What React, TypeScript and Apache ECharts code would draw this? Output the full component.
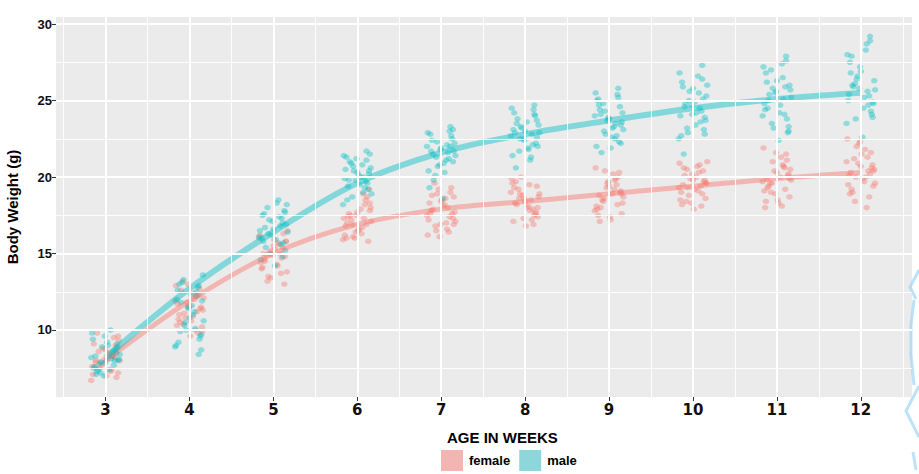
import React, { useEffect, useRef } from "react";
import * as echarts from "echarts";

const WEEKS = [3, 4, 5, 6, 7, 8, 9, 10, 11, 12];
const X_TICKS = [3, 4, 5, 6, 7, 8, 9, 10, 11, 12];
const X_MINOR = [2.5, 3.5, 4.5, 5.5, 6.5, 7.5, 8.5, 9.5, 10.5, 11.5, 12.5];
const Y_TICKS = [10, 15, 20, 25, 30];
const Y_MINOR = [7.5, 12.5, 17.5, 22.5, 27.5];

const FEMALE_Y = [
  [7.9, 8.4, 7.2, 8.8, 9.5, 7.6, 8.1, 6.9, 8.6, 7.4, 9.1, 8.0, 7.7, 8.3, 9.8, 7.0, 8.9, 7.5, 8.2, 6.7, 8.5, 7.8, 9.3, 8.0, 7.3, 8.7, 7.1, 9.0, 7.9, 8.3, 7.6, 9.6, 8.1],
  [11.0, 12.4, 10.2, 11.8, 9.8, 12.9, 10.6, 11.4, 13.2, 10.0, 11.7, 12.1, 10.8, 11.2, 12.6, 9.6, 11.5, 10.4, 12.3, 11.9, 10.9, 13.0, 11.3, 10.5, 12.0, 11.6, 10.3, 12.7, 11.1, 12.2, 10.7, 9.9, 11.5],
  [15.0, 14.2, 15.8, 13.4, 14.7, 16.2, 15.3, 13.0, 14.9, 15.6, 14.0, 16.5, 15.1, 13.7, 14.5, 15.9, 14.8, 13.2, 15.4, 16.0, 14.3, 15.2, 13.8, 14.6, 15.7, 15.5, 14.4, 16.3, 13.5, 15.0, 14.1, 15.8, 14.9],
  [17.0, 16.3, 17.8, 16.0, 18.5, 17.3, 16.6, 15.8, 17.5, 18.9, 16.8, 17.1, 16.1, 18.2, 17.6, 16.5, 19.2, 17.2, 16.9, 15.9, 17.9, 16.4, 18.0, 17.4, 16.7, 17.7, 16.2, 18.7, 16.9, 17.3, 16.0, 18.3, 17.5],
  [17.8, 18.6, 16.9, 19.2, 17.4, 16.2, 18.1, 17.6, 19.6, 16.6, 18.3, 17.1, 18.9, 16.4, 17.9, 18.5, 17.3, 16.8, 19.0, 17.5, 18.2, 16.1, 17.7, 18.8, 17.0, 18.4, 17.2, 19.3, 16.5, 18.0, 17.6, 18.7, 16.9],
  [18.3, 19.5, 17.4, 18.8, 16.9, 19.9, 18.0, 17.7, 19.2, 18.5, 17.1, 18.9, 20.0, 17.9, 18.2, 16.8, 19.4, 18.6, 17.5, 19.0, 18.1, 17.3, 18.7, 19.7, 17.8, 18.4, 19.6, 17.6, 18.9, 17.2, 19.3, 18.0, 18.6],
  [18.8, 20.2, 17.6, 19.3, 18.2, 20.6, 17.2, 19.0, 18.5, 19.8, 17.9, 18.7, 20.4, 19.5, 18.0, 17.4, 19.1, 18.4, 20.0, 17.8, 18.9, 19.6, 18.3, 17.1, 19.2, 19.4, 18.1, 20.3, 18.6, 19.9, 17.5, 18.9, 19.7],
  [19.5, 20.7, 18.6, 19.9, 18.1, 20.9, 19.2, 19.7, 18.4, 20.3, 19.0, 21.0, 18.8, 19.4, 20.1, 17.9, 19.8, 20.5, 18.9, 19.3, 20.0, 18.3, 19.6, 20.6, 19.1, 19.8, 18.5, 20.4, 19.3, 20.8, 18.2, 19.6, 20.2],
  [19.9, 21.3, 18.7, 20.4, 19.2, 21.9, 18.3, 20.1, 19.6, 20.8, 18.0, 19.8, 21.0, 20.6, 19.4, 18.5, 20.2, 19.0, 21.5, 19.7, 20.0, 18.9, 20.5, 19.3, 18.1, 20.3, 19.1, 21.1, 19.6, 20.7, 18.4, 19.9, 21.6],
  [20.3, 21.8, 19.4, 20.9, 18.7, 22.5, 19.9, 20.6, 21.2, 18.0, 20.1, 19.6, 22.0, 20.4, 19.0, 21.5, 20.8, 18.4, 20.2, 21.0, 19.7, 22.2, 20.5, 19.2, 20.0, 20.7, 19.5, 21.6, 20.0, 21.3, 18.9, 20.4, 22.3],
];

const MALE_Y = [
  [8.3, 7.6, 9.0, 8.1, 7.2, 8.7, 9.4, 7.9, 8.5, 7.4, 10.0, 8.2, 7.7, 8.9, 8.0, 7.1, 9.2, 8.4, 7.8, 8.6, 9.6, 7.5, 8.1, 8.8, 7.3, 7.9, 8.6, 9.8, 7.4, 8.3, 9.1, 7.0, 8.0],
  [12.5, 9.2, 11.6, 13.6, 10.3, 8.4, 12.0, 10.8, 9.6, 13.1, 11.2, 8.9, 12.8, 10.0, 11.9, 9.9, 12.3, 10.6, 13.3, 9.4, 11.4, 12.6, 10.1, 8.7, 11.8, 10.5, 12.2, 9.0, 11.0, 13.0, 9.7, 11.5, 12.9],
  [16.8, 17.5, 15.9, 18.2, 16.3, 17.0, 14.6, 16.6, 17.8, 15.4, 18.5, 16.1, 17.3, 15.0, 16.9, 17.6, 14.2, 16.4, 18.0, 15.7, 17.1, 16.0, 17.4, 15.2, 16.7, 17.2, 15.6, 16.5, 18.3, 15.8, 17.7, 16.2, 14.8],
  [20.0, 21.3, 19.5, 20.6, 18.7, 21.7, 19.9, 20.3, 19.2, 21.0, 20.8, 18.2, 19.7, 20.4, 21.5, 19.4, 20.1, 18.9, 20.9, 19.6, 21.2, 20.5, 19.0, 20.2, 19.8, 20.7, 19.3, 21.4, 20.0, 18.5, 20.4, 19.8, 21.1],
  [21.6, 22.8, 20.9, 22.2, 21.3, 23.3, 20.4, 21.9, 22.5, 19.8, 21.1, 22.0, 23.0, 20.7, 21.7, 22.4, 18.6, 21.4, 20.1, 22.7, 21.8, 19.3, 22.1, 21.0, 21.5, 22.3, 21.2, 22.9, 20.3, 21.7, 23.1, 20.8, 22.0],
  [22.8, 24.2, 21.9, 23.4, 22.5, 24.7, 21.4, 23.0, 22.2, 23.8, 21.1, 22.7, 24.4, 23.2, 22.0, 20.6, 23.6, 22.9, 21.7, 24.0, 22.4, 23.1, 21.3, 22.6, 23.5, 23.3, 22.1, 24.5, 21.8, 22.9, 23.7, 22.5, 24.1],
  [23.5, 25.1, 22.6, 24.2, 23.0, 25.8, 22.0, 23.8, 24.6, 21.6, 23.3, 24.0, 25.4, 22.8, 23.6, 24.4, 21.9, 23.1, 24.8, 22.3, 23.9, 25.0, 22.5, 23.4, 24.1, 24.3, 22.7, 25.5, 23.2, 24.7, 22.2, 23.7, 25.2],
  [24.5, 26.2, 23.4, 25.3, 22.9, 27.3, 24.0, 25.8, 23.1, 24.8, 26.6, 22.5, 24.3, 25.6, 23.7, 21.5, 24.9, 26.0, 23.2, 25.1, 24.1, 22.7, 25.5, 23.9, 24.6, 25.0, 23.6, 26.8, 24.2, 25.9, 22.8, 24.7, 26.4],
  [25.1, 26.8, 24.2, 25.7, 23.5, 27.9, 24.8, 26.3, 22.9, 25.4, 27.4, 24.0, 25.9, 23.2, 26.0, 24.5, 22.4, 25.2, 27.0, 23.8, 25.6, 24.4, 26.5, 23.0, 25.0, 25.8, 24.1, 27.2, 24.7, 26.2, 23.3, 25.5, 27.6],
  [25.6, 27.5, 24.5, 26.3, 23.8, 29.2, 25.0, 26.9, 24.1, 25.9, 28.3, 23.5, 25.3, 26.6, 24.8, 27.9, 22.6, 25.7, 26.1, 24.3, 27.2, 25.4, 28.7, 24.9, 26.0, 26.4, 24.7, 28.0, 25.2, 26.8, 23.9, 25.8, 28.9],
];

const FEMALE_JITTER = [-0.12, 0.05, 0.15, -0.03, 0.1, -0.16, 0.02, 0.13, -0.08, 0.07, -0.14, 0.17, -0.05, 0.09, -0.1, 0.01, 0.14, -0.07, 0.11, -0.17, 0.04, -0.02, 0.16, -0.11, 0.06, 0.0, -0.15, 0.12, -0.06, 0.08, -0.13, 0.15, -0.01];
const MALE_JITTER = [0.08, -0.13, 0.03, 0.16, -0.06, 0.11, -0.15, 0.0, 0.13, -0.09, 0.06, -0.17, 0.1, -0.04, 0.15, -0.11, 0.02, 0.17, -0.07, 0.12, -0.01, -0.14, 0.07, 0.14, -0.1, -0.05, 0.09, -0.16, 0.04, -0.12, 0.14, -0.02, 0.11];

const FEMALE_FIT = [8.0, 11.9, 15.0, 16.9, 17.9, 18.4, 18.9, 19.4, 19.9, 20.3];
const MALE_FIT = [8.2, 12.7, 16.4, 19.6, 21.6, 22.8, 23.7, 24.5, 25.1, 25.5];

const FEMALE_COLOR = "#F8766D";
const MALE_COLOR = "#00BFC4";

function buildPoints(ys: number[][], jitter: number[]) {
  const out: number[][] = [];
  WEEKS.forEach((w, i) => {
    ys[i].forEach((y, j) => out.push([w + jitter[j % jitter.length], y]));
  });
  return out;
}

export default function App() {
  const ref = useRef<HTMLDivElement>(null);
  useEffect(() => {
    if (!ref.current) return;
    const chart = echarts.init(ref.current, null, { renderer: "svg" });
    const gridLines: any[] = [];
    X_MINOR.forEach((v) => gridLines.push({ xAxis: v, lineStyle: { color: "#FFFFFF", width: 0.9, type: "solid" } }));
    Y_MINOR.forEach((v) => gridLines.push({ yAxis: v, lineStyle: { color: "#FFFFFF", width: 0.9, type: "solid" } }));
    X_TICKS.forEach((v) => gridLines.push({ xAxis: v, lineStyle: { color: "#FFFFFF", width: 2, type: "solid" } }));
    Y_TICKS.forEach((v) => gridLines.push({ yAxis: v, lineStyle: { color: "#FFFFFF", width: 2, type: "solid" } }));

    const blue = "rgba(160,214,245,0.7)";
    const option: any = {
      animation: false,
      textStyle: { fontFamily: "Liberation Sans, Arial, sans-serif" },
      grid: {
        left: 56,
        top: 17,
        right: 7,
        bottom: 77,
        show: true,
        backgroundColor: "#EBEBEB",
        borderWidth: 0,
        containLabel: false,
        outerBoundsMode: "none",
      },
      xAxis: {
        type: "value",
        min: 2.41,
        max: 12.61,
        axisLine: { show: false },
        splitLine: { show: false },
        axisTick: { show: true, customValues: X_TICKS, length: 4, lineStyle: { color: "#333333", width: 1 } },
        axisLabel: {
          customValues: X_TICKS,
          color: "#111111",
          fontSize: 15,
          fontWeight: "bold",
          fontFamily: "DejaVu Sans, sans-serif",
          margin: 5,
          formatter: (v: number) => (Number.isInteger(v) ? String(v) : ""),
        },
      },
      yAxis: {
        type: "value",
        min: 5.62,
        max: 30.46,
        name: "Body Weight (g)",
        nameLocation: "middle",
        nameGap: 36,
        nameTextStyle: { color: "#000000", fontSize: 15, fontWeight: "bold" },
        axisLine: { show: false },
        splitLine: { show: false },
        axisTick: { show: true, customValues: Y_TICKS, length: 4, lineStyle: { color: "#333333", width: 1 } },
        axisLabel: {
          customValues: Y_TICKS,
          color: "#111111",
          fontSize: 13,
          fontWeight: "bold",
          margin: 4,
          formatter: (v: number) => (Number.isInteger(v) ? String(v) : ""),
        },
      },
      legend: {
        left: 441,
        top: 450,
        padding: 0,
        itemWidth: 22,
        itemHeight: 21,
        itemGap: 9,
        icon: "rect",
        selectedMode: false,
        textStyle: { color: "#000000", fontSize: 13, fontWeight: "bold", padding: [0, 0, 0, 1] },
        data: [
          { name: "female", itemStyle: { color: "#F3B5B1", opacity: 1 } },
          { name: "male", itemStyle: { color: "#8DD6D9", opacity: 1 } },
        ],
      },
      graphic: [
        {
          type: "text",
          left: 447,
          top: 430,
          style: { text: "AGE IN WEEKS", fill: "#000000", font: "bold 15px Liberation Sans, Arial, sans-serif" },
        },
        { type: "polyline", shape: { points: [[919, 270], [910, 287], [916, 299]] }, style: { stroke: blue, lineWidth: 3, fill: "none" } },
        { type: "polyline", shape: { points: [[914, 300], [911, 325], [911, 355], [914, 385]] }, style: { stroke: blue, lineWidth: 3, fill: "none" } },
        { type: "polyline", shape: { points: [[919, 386], [906, 411], [919, 437]] }, style: { stroke: blue, lineWidth: 3, fill: "none" } },
        { type: "polyline", shape: { points: [[913, 452], [916, 470]] }, style: { stroke: blue, lineWidth: 3, fill: "none" } },
      ],
      series: [
        {
          name: "grid",
          type: "scatter",
          data: [],
          z: 1,
          silent: true,
          markLine: {
            silent: true,
            symbol: "none",
            label: { show: false },
            animation: false,
            data: gridLines,
          },
        },
        {
          name: "female",
          type: "scatter",
          z: 3,
          symbol: "circle",
          symbolSize: [6.5, 5.5],
          itemStyle: { color: FEMALE_COLOR, opacity: 0.38 },
          data: buildPoints(FEMALE_Y, FEMALE_JITTER),
        },
        {
          name: "male",
          type: "scatter",
          z: 3,
          symbol: "circle",
          symbolSize: [6.5, 5.5],
          itemStyle: { color: MALE_COLOR, opacity: 0.38 },
          data: buildPoints(MALE_Y, MALE_JITTER),
        },
        {
          name: "female fit",
          type: "line",
          z: 4,
          smooth: 0.35,
          symbol: "none",
          lineStyle: { color: FEMALE_COLOR, width: 5, opacity: 0.45 },
          data: WEEKS.map((w, i) => [w, FEMALE_FIT[i]]),
        },
        {
          name: "male fit",
          type: "line",
          z: 4,
          smooth: 0.35,
          symbol: "none",
          lineStyle: { color: MALE_COLOR, width: 6, opacity: 0.45 },
          data: WEEKS.map((w, i) => [w, MALE_FIT[i]]),
        },
      ],
    };
    chart.setOption(option);
    return () => chart.dispose();
  }, []);
  return (
    <div
      ref={ref}
      style={{ position: "fixed", left: 0, top: 0, width: 919, height: 474, background: "#FFFFFF" }}
    />
  );
}
